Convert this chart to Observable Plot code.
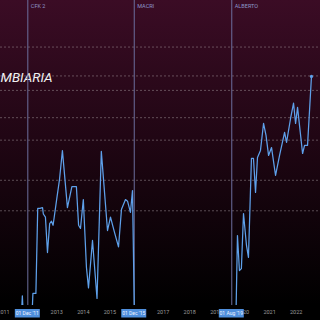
<!DOCTYPE html>
<html><head><meta charset="utf-8">
<script src="https://cdn.jsdelivr.net/npm/d3@7"></script>
<script src="https://cdn.jsdelivr.net/npm/@observablehq/plot@0.6"></script>
<style>
html,body{margin:0;padding:0;background:#000;overflow:hidden;}
#chart{width:320px;height:320px;}
</style></head><body><div id="chart"></div>
<script>
// Brecha cambiaria (%)
const dates = [
  "2011-01-01","2011-09-03","2011-09-17","2011-10-01","2012-01-26","2012-02-09","2012-03-21",
  "2012-04-15","2012-05-15","2012-06-20","2012-07-01","2012-07-30","2012-08-27","2012-09-26",
  "2012-10-21","2012-11-12","2013-01-06","2013-02-08","2013-03-20","2013-05-28","2013-07-28",
  "2013-09-28","2013-10-28","2013-11-23","2014-01-01","2014-02-13","2014-03-13","2014-05-07",
  "2014-07-08","2014-09-05","2014-11-29","2015-01-09","2015-03-05","2015-04-29","2015-06-09",
  "2015-08-03","2015-08-31","2015-10-10","2015-11-07","2015-12-04","2016-06-01","2017-06-01",
  "2018-06-01","2019-09-27","2019-10-18","2019-11-14","2019-12-11","2020-01-09","2020-02-19",
  "2020-03-17","2020-04-27","2020-05-25","2020-06-22","2020-07-19","2020-08-29","2020-10-10",
  "2020-11-13","2020-12-18","2021-01-28","2021-03-24","2021-05-18","2021-07-26","2021-08-22",
  "2021-10-16","2021-11-26","2021-12-24","2022-01-20","2022-03-30","2022-04-26","2022-06-06",
  "2022-07-30"
];
const values = [
  2,2,16,2,2,17.5,17.5,
  70.5,70.5,71,67,65,43,61,
  62.5,60,78,88.5,106.5,71,84,
  84,60,58,76,33.7,21,50.5,
  14.4,106,56.7,65,55.5,46.5,70,
  76,75,68,81.6,2,2,2,
  2,2,53.6,31.8,33,67.3,47.4,
  40,101.6,101.6,80.4,102.2,106.6,123.4,
  116,103.5,108.4,91,103.5,117.8,111.6,
  126.5,136,123.4,133.4,104.7,109.7,109.7,
  152.7
];
const eventDates = ["2011-12-01","2015-12-01","2019-08-01"];
const eventNames = ["CFK 2","MACRI","ALBERTO"];
const eventTags = ["01 Dec '11","01 Dec '15","01 Aug '19"];
const yearTicks = [2011,2013,2014,2015,2017,2018,2019,2020,2021,2022];
const gridValues = [171,153,144,127,113,88,69];
const titleText = "MBIARIA";

const series = dates.map((d, i) => ({date: new Date(d), value: values[i]}));
const events = eventDates.map((d, i) => ({date: new Date(d), name: eventNames[i], tag: eventTags[i]}));
const last = series[series.length - 1];
const lineColor = "#5ea0ea";

function eventTagMark(index, scales, vals, dimensions) {
  const g = d3.create("svg:g");
  const yTop = dimensions.height - dimensions.marginBottom + 4;
  events.forEach(e => {
    const x = scales.x(e.date);
    g.append("rect").attr("x", x - 12.5).attr("y", yTop).attr("width", 25).attr("height", 8.5)
      .attr("fill", "#4f8fdc");
    g.append("text").attr("x", x).attr("y", yTop + 4.4)
      .attr("text-anchor", "middle").attr("dominant-baseline", "central")
      .attr("font-size", 5).attr("fill", "#eef3ff").attr("font-family", "Roboto")
      .text(e.tag);
  });
  return g.node();
}

const chart = Plot.plot({
  width: 320, height: 320,
  marginTop: 0, marginBottom: 15, marginLeft: 0, marginRight: 0,
  style: {background: "linear-gradient(to bottom, #3b0c25 0%, #1c0511 50%, #000 95%)", fontFamily: "Roboto", overflow: "hidden"},
  x: {type: "utc", domain: [new Date("2010-11-21"), new Date("2022-12-01")], axis: null},
  y: {domain: [10, 200], axis: null},
  marks: [
    Plot.ruleY(gridValues, {stroke: "#a0949a", strokeOpacity: 0.5, strokeDasharray: "2,2"}),
    Plot.text([titleText], {frameAnchor: "top-left", dy: 72, textAnchor: "start", fontSize: 13.5, fontStyle: "italic", fill: "#f0f0f0"}),
    Plot.ruleX(events, {x: "date", stroke: "#6c6f9e", strokeWidth: 1}),
    Plot.text(events, {x: "date", text: "name", frameAnchor: "top", dy: 4, dx: 3, textAnchor: "start", fontSize: 5.5, fill: "#8c96c8"}),
    Plot.line(series, {x: "date", y: "value", stroke: lineColor, strokeWidth: 1.25, clip: true}),
    Plot.dot([last], {x: "date", y: "value", r: 1.6, fill: lineColor}),
    Plot.text(yearTicks, {x: d => new Date(Date.UTC(d, 0, 1)), text: d => String(d), frameAnchor: "bottom", dy: 8, fontSize: 5.5, fill: "#9a9a9a"}),
    eventTagMark
  ]
});
document.getElementById("chart").appendChild(chart);
</script></body></html>
